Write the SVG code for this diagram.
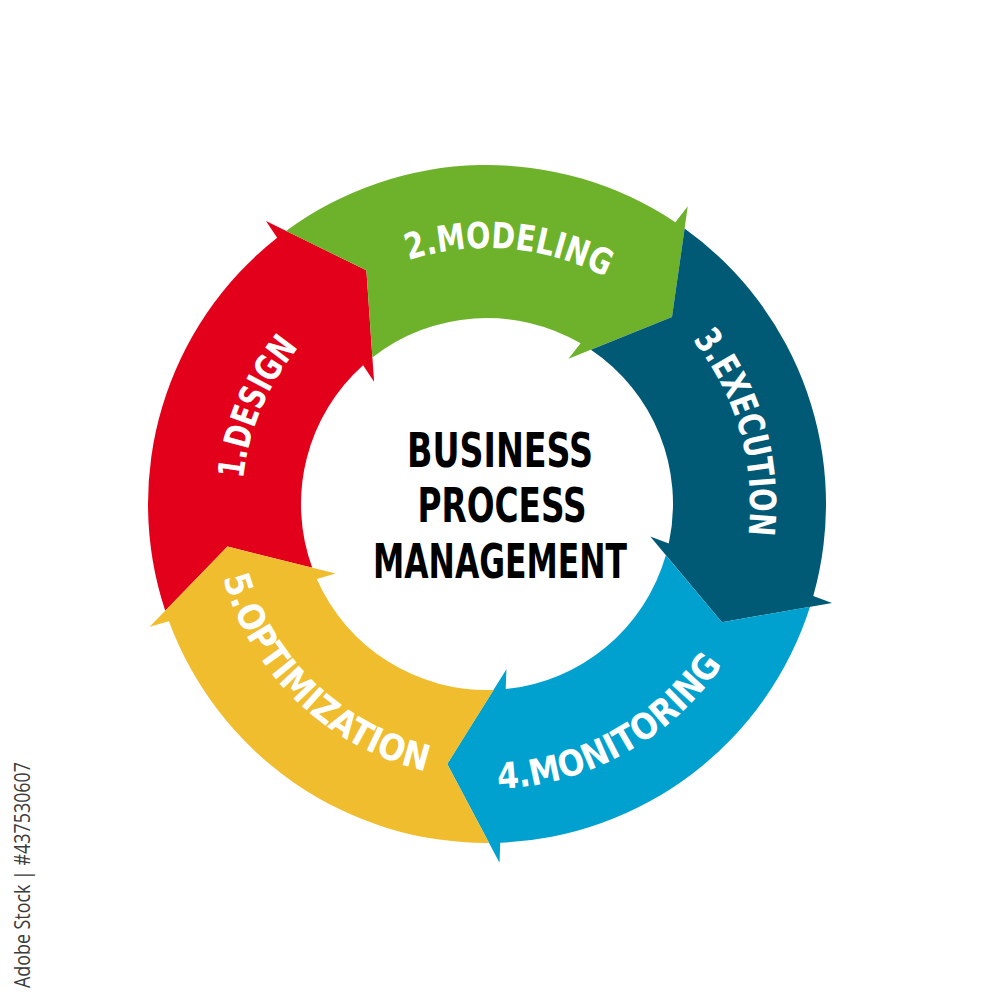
<svg xmlns="http://www.w3.org/2000/svg" xmlns:xlink="http://www.w3.org/1999/xlink" width="1000" height="1000" viewBox="0 0 1000 1000">
  <style>
    .lbl { font-family: "DejaVu Sans Condensed", "DejaVu Sans", "Liberation Sans", sans-serif; font-stretch: condensed; font-weight: bold; font-size: 36px; fill: #ffffff; }
    .title { font-family: "DejaVu Sans Condensed", "DejaVu Sans", "Liberation Sans", sans-serif; font-stretch: condensed; font-weight: bold; font-size: 48px; fill: #000000; }
    .wm { font-family: "Open Sans", "DejaVu Sans", sans-serif; font-size: 21px; fill: #3b3b3b; }
  </style>
  <defs>
    <path id="arrow" d="M 52.75 -334.87 A 339 339 0 0 1 332.84 -64.33 L 352.76 -66.66 L 263 0 L 160.52 -44.22 L 180.09 -46.50 A 186 186 0 0 0 23.53 -184.51 L 81.27 -250.13 Z"/>
    <path id="tp1" d="M 243.93 534.71 A 245 245 0 0 1 338.87 308.85"/>
    <path id="tp2" d="M 378.34 272.20 A 256 256 0 0 1 633.47 294.04"/>
    <path id="tp3" d="M 670.02 315.13 A 263 263 0 0 1 742.08 568.07"/>
    <path id="tp4" d="M 481.78 788.95 A 285 285 0 0 0 731.17 651.00"/>
    <path id="tp5" d="M 218.36 557.92 A 274 274 0 0 0 445.79 774.88"/>
  </defs>
  <rect width="1000" height="1000" fill="#ffffff"/>
  <g id="node-design">
    <use href="#arrow" xlink:href="#arrow" transform="translate(487 504) rotate(242.7)" fill="#E2001A"/>
    <text class="lbl"><textPath href="#tp1" xlink:href="#tp1" startOffset="50%" text-anchor="middle" textLength="145" lengthAdjust="spacingAndGlyphs">1.DESIGN</textPath></text>
  </g>
  <g id="node-modeling">
    <use href="#arrow" xlink:href="#arrow" transform="translate(487 504) rotate(314.7)" fill="#6DB22A"/>
    <text class="lbl"><textPath href="#tp2" xlink:href="#tp2" startOffset="50%" text-anchor="middle" textLength="203" lengthAdjust="spacingAndGlyphs">2.MODELING</textPath></text>
  </g>
  <g id="node-execution">
    <use href="#arrow" xlink:href="#arrow" transform="translate(487 504) rotate(26.7)" fill="#005A76"/>
    <text class="lbl"><textPath href="#tp3" xlink:href="#tp3" startOffset="50%" text-anchor="middle" textLength="208" lengthAdjust="spacingAndGlyphs">3.EXECUTION</textPath></text>
  </g>
  <g id="node-monitoring">
    <use href="#arrow" xlink:href="#arrow" transform="translate(487 504) rotate(98.7)" fill="#00A1CE"/>
    <text class="lbl"><textPath href="#tp4" xlink:href="#tp4" startOffset="50%" text-anchor="middle" textLength="266" lengthAdjust="spacingAndGlyphs">4.MONITORING</textPath></text>
  </g>
  <g id="node-optimization">
    <use href="#arrow" xlink:href="#arrow" transform="translate(487 504) rotate(170.7)" fill="#F0BD2E"/>
    <text class="lbl"><textPath href="#tp5" xlink:href="#tp5" startOffset="50%" text-anchor="middle" textLength="294" lengthAdjust="spacingAndGlyphs">5.OPTIMIZATION</textPath></text>
  </g>
  <g id="connectors"></g>
  <g id="node-center">
    <text class="title" x="500" y="467" text-anchor="middle" textLength="186" lengthAdjust="spacingAndGlyphs">BUSINESS</text>
    <text class="title" x="502" y="522" text-anchor="middle" textLength="169" lengthAdjust="spacingAndGlyphs">PROCESS</text>
    <text class="title" x="500" y="578" text-anchor="middle" textLength="254" lengthAdjust="spacingAndGlyphs">MANAGEMENT</text>
  </g>
  <text class="wm" transform="translate(30 988) rotate(-90)" textLength="226" lengthAdjust="spacingAndGlyphs">Adobe Stock | #437530607</text>
</svg>
